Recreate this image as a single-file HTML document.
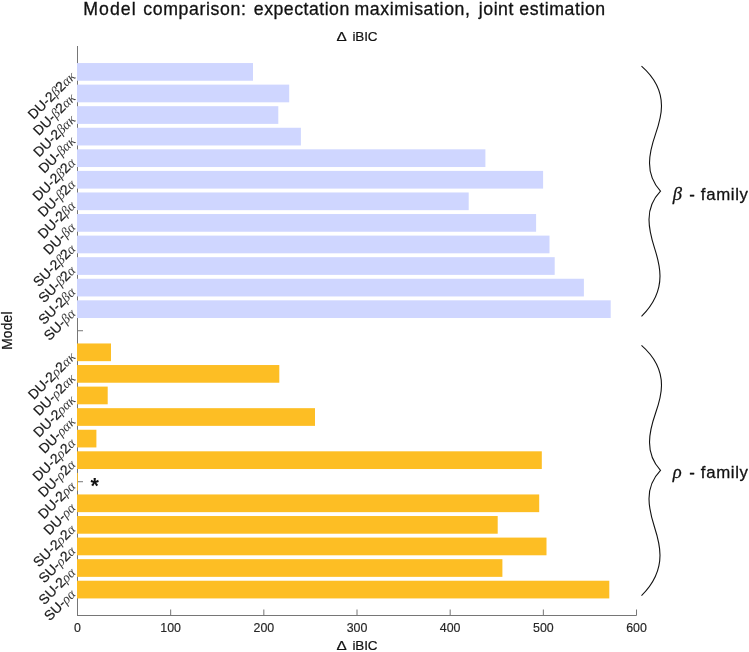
<!DOCTYPE html><html><head><meta charset="utf-8"><title>Model comparison</title>
<style>
html,body{margin:0;padding:0;background:#fff}
svg{display:block}
text{font-family:"Liberation Sans",sans-serif;fill:#111}
.t{font-size:12.4px;fill:#262626;stroke:#262626;stroke-width:0.15px}
.yl{font-size:13.8px;fill:#1a1a1a;stroke:#1a1a1a;stroke-width:0.22px}
.g{font-family:"Liberation Serif",serif;font-style:italic;font-size:13.8px;fill:#3a3a3a;stroke:none}
.fam{stroke:#111;stroke-width:0.3px}
.gi{font-family:"Liberation Serif",serif;font-style:italic}
.lb{stroke:#111;stroke-width:0.2px}
.ttl{stroke:#111;stroke-width:0.3px}
.ax{stroke:#767676;stroke-width:1;fill:none}
</style></head><body>
<svg width="749" height="652" viewBox="0 0 749 652">
<rect width="749" height="652" fill="#fff"/>
<text class="ttl" y="15.4" font-size="17.7"><tspan x="83.2" textLength="52.4" lengthAdjust="spacing">Model</tspan> <tspan x="143.2" textLength="102.6" lengthAdjust="spacing">comparison:</tspan> <tspan x="253.8" textLength="95.5" lengthAdjust="spacing">expectation</tspan> <tspan x="354.4" textLength="115.6" lengthAdjust="spacing">maximisation,</tspan> <tspan x="478.8" textLength="34.6" lengthAdjust="spacing">joint</tspan> <tspan x="519.3" textLength="85.9" lengthAdjust="spacing">estimation</tspan></text>
<text class="lb" transform="translate(336.4,40.6) scale(1.14,1)" font-size="13.5">Δ</text>
<text class="lb" x="352.4" y="40.6" font-size="13.5" textLength="25.2" lengthAdjust="spacing">iBIC</text>
<text class="lb" transform="translate(336.4,650.1) scale(1.14,1)" font-size="13.5">Δ</text>
<text class="lb" x="352.4" y="650.1" font-size="13.5" textLength="25.2" lengthAdjust="spacing">iBIC</text>
<text class="lb" transform="translate(11.9,349.8) rotate(-90)" font-size="13.8" textLength="38.3" lengthAdjust="spacing">Model</text>
<line class="ax" x1="77.5" x2="83.0" y1="71.90" y2="71.90"/>
<line class="ax" x1="77.5" x2="83.0" y1="93.47" y2="93.47"/>
<line class="ax" x1="77.5" x2="83.0" y1="115.04" y2="115.04"/>
<line class="ax" x1="77.5" x2="83.0" y1="136.61" y2="136.61"/>
<line class="ax" x1="77.5" x2="83.0" y1="158.18" y2="158.18"/>
<line class="ax" x1="77.5" x2="83.0" y1="179.75" y2="179.75"/>
<line class="ax" x1="77.5" x2="83.0" y1="201.32" y2="201.32"/>
<line class="ax" x1="77.5" x2="83.0" y1="222.89" y2="222.89"/>
<line class="ax" x1="77.5" x2="83.0" y1="244.46" y2="244.46"/>
<line class="ax" x1="77.5" x2="83.0" y1="266.03" y2="266.03"/>
<line class="ax" x1="77.5" x2="83.0" y1="287.60" y2="287.60"/>
<line class="ax" x1="77.5" x2="83.0" y1="309.17" y2="309.17"/>
<line class="ax" x1="77.5" x2="83.0" y1="330.74" y2="330.74"/>
<line class="ax" x1="77.5" x2="83.0" y1="352.31" y2="352.31"/>
<line class="ax" x1="77.5" x2="83.0" y1="373.88" y2="373.88"/>
<line class="ax" x1="77.5" x2="83.0" y1="395.45" y2="395.45"/>
<line class="ax" x1="77.5" x2="83.0" y1="417.02" y2="417.02"/>
<line class="ax" x1="77.5" x2="83.0" y1="438.59" y2="438.59"/>
<line class="ax" x1="77.5" x2="83.0" y1="460.16" y2="460.16"/>
<line class="ax" x1="77.5" x2="83.0" y1="481.73" y2="481.73"/>
<line class="ax" x1="77.5" x2="83.0" y1="503.30" y2="503.30"/>
<line class="ax" x1="77.5" x2="83.0" y1="524.87" y2="524.87"/>
<line class="ax" x1="77.5" x2="83.0" y1="546.44" y2="546.44"/>
<line class="ax" x1="77.5" x2="83.0" y1="568.01" y2="568.01"/>
<line class="ax" x1="77.5" x2="83.0" y1="589.58" y2="589.58"/>
<path class="ax" d="M77.5 46.0 V615.5"/>
<rect x="77.0" y="63.05" width="176.00" height="17.7" fill="#cfd6ff"/>
<rect x="77.0" y="84.62" width="212.20" height="17.7" fill="#cfd6ff"/>
<rect x="77.0" y="106.19" width="201.30" height="17.7" fill="#cfd6ff"/>
<rect x="77.0" y="127.76" width="223.90" height="17.7" fill="#cfd6ff"/>
<rect x="77.0" y="149.33" width="408.40" height="17.7" fill="#cfd6ff"/>
<rect x="77.0" y="170.90" width="466.10" height="17.7" fill="#cfd6ff"/>
<rect x="77.0" y="192.47" width="391.70" height="17.7" fill="#cfd6ff"/>
<rect x="77.0" y="214.04" width="459.10" height="17.7" fill="#cfd6ff"/>
<rect x="77.0" y="235.61" width="472.50" height="17.7" fill="#cfd6ff"/>
<rect x="77.0" y="257.18" width="477.70" height="17.7" fill="#cfd6ff"/>
<rect x="77.0" y="278.75" width="506.90" height="17.7" fill="#cfd6ff"/>
<rect x="77.0" y="300.32" width="533.70" height="17.7" fill="#cfd6ff"/>
<rect x="77.0" y="343.46" width="34.00" height="17.7" fill="#fdbe24"/>
<rect x="77.0" y="365.03" width="202.30" height="17.7" fill="#fdbe24"/>
<rect x="77.0" y="386.60" width="30.70" height="17.7" fill="#fdbe24"/>
<rect x="77.0" y="408.17" width="238.00" height="17.7" fill="#fdbe24"/>
<rect x="77.0" y="429.74" width="19.40" height="17.7" fill="#fdbe24"/>
<rect x="77.0" y="451.31" width="464.80" height="17.7" fill="#fdbe24"/>
<rect x="77.0" y="472.88" width="0.90" height="17.7" fill="#fdbe24"/>
<rect x="77.0" y="494.45" width="462.20" height="17.7" fill="#fdbe24"/>
<rect x="77.0" y="516.02" width="420.70" height="17.7" fill="#fdbe24"/>
<rect x="77.0" y="537.59" width="469.50" height="17.7" fill="#fdbe24"/>
<rect x="77.0" y="559.16" width="425.40" height="17.7" fill="#fdbe24"/>
<rect x="77.0" y="580.73" width="532.30" height="17.7" fill="#fdbe24"/>
<path class="ax" d="M77.0 615.5 H636.5"/>
<line class="ax" x1="77.50" x2="77.50" y1="615.5" y2="609.5"/>
<text class="t" x="77.50" y="632.4" text-anchor="middle">0</text>
<line class="ax" x1="170.67" x2="170.67" y1="615.5" y2="609.5"/>
<text class="t" x="170.67" y="632.4" text-anchor="middle">100</text>
<line class="ax" x1="263.84" x2="263.84" y1="615.5" y2="609.5"/>
<text class="t" x="263.84" y="632.4" text-anchor="middle">200</text>
<line class="ax" x1="357.01" x2="357.01" y1="615.5" y2="609.5"/>
<text class="t" x="357.01" y="632.4" text-anchor="middle">300</text>
<line class="ax" x1="450.18" x2="450.18" y1="615.5" y2="609.5"/>
<text class="t" x="450.18" y="632.4" text-anchor="middle">400</text>
<line class="ax" x1="543.35" x2="543.35" y1="615.5" y2="609.5"/>
<text class="t" x="543.35" y="632.4" text-anchor="middle">500</text>
<line class="ax" x1="636.52" x2="636.52" y1="615.5" y2="609.5"/>
<text class="t" x="636.52" y="632.4" text-anchor="middle">600</text>
<text class="yl" transform="translate(73.5,74.40) rotate(-45)" text-anchor="end" y="4.0">DU-2<tspan class="g">β</tspan>2<tspan class="g">α</tspan><tspan class="g">κ</tspan></text>
<text class="yl" transform="translate(73.5,95.97) rotate(-45)" text-anchor="end" y="4.0">DU-<tspan class="g">β</tspan>2<tspan class="g">α</tspan><tspan class="g">κ</tspan></text>
<text class="yl" transform="translate(73.5,117.54) rotate(-45)" text-anchor="end" y="4.0">DU-2<tspan class="g">β</tspan><tspan class="g">α</tspan><tspan class="g">κ</tspan></text>
<text class="yl" transform="translate(73.5,139.11) rotate(-45)" text-anchor="end" y="4.0">DU-<tspan class="g">β</tspan><tspan class="g">α</tspan><tspan class="g">κ</tspan></text>
<text class="yl" transform="translate(73.5,160.68) rotate(-45)" text-anchor="end" y="4.0">DU-2<tspan class="g">β</tspan>2<tspan class="g">α</tspan></text>
<text class="yl" transform="translate(73.5,182.25) rotate(-45)" text-anchor="end" y="4.0">DU-<tspan class="g">β</tspan>2<tspan class="g">α</tspan></text>
<text class="yl" transform="translate(73.5,203.82) rotate(-45)" text-anchor="end" y="4.0">DU-2<tspan class="g">β</tspan><tspan class="g">α</tspan></text>
<text class="yl" transform="translate(73.5,225.39) rotate(-45)" text-anchor="end" y="4.0">DU-<tspan class="g">β</tspan><tspan class="g">α</tspan></text>
<text class="yl" transform="translate(73.5,246.96) rotate(-45)" text-anchor="end" y="4.0">SU-2<tspan class="g">β</tspan>2<tspan class="g">α</tspan></text>
<text class="yl" transform="translate(73.5,268.53) rotate(-45)" text-anchor="end" y="4.0">SU-<tspan class="g">β</tspan>2<tspan class="g">α</tspan></text>
<text class="yl" transform="translate(73.5,290.10) rotate(-45)" text-anchor="end" y="4.0">SU-2<tspan class="g">β</tspan><tspan class="g">α</tspan></text>
<text class="yl" transform="translate(73.5,311.67) rotate(-45)" text-anchor="end" y="4.0">SU-<tspan class="g">β</tspan><tspan class="g">α</tspan></text>
<text class="yl" transform="translate(73.5,354.81) rotate(-45)" text-anchor="end" y="4.0">DU-2<tspan class="g">ρ</tspan>2<tspan class="g">α</tspan><tspan class="g">κ</tspan></text>
<text class="yl" transform="translate(73.5,376.38) rotate(-45)" text-anchor="end" y="4.0">DU-<tspan class="g">ρ</tspan>2<tspan class="g">α</tspan><tspan class="g">κ</tspan></text>
<text class="yl" transform="translate(73.5,397.95) rotate(-45)" text-anchor="end" y="4.0">DU-2<tspan class="g">ρ</tspan><tspan class="g">α</tspan><tspan class="g">κ</tspan></text>
<text class="yl" transform="translate(73.5,419.52) rotate(-45)" text-anchor="end" y="4.0">DU-<tspan class="g">ρ</tspan><tspan class="g">α</tspan><tspan class="g">κ</tspan></text>
<text class="yl" transform="translate(73.5,441.09) rotate(-45)" text-anchor="end" y="4.0">DU-2<tspan class="g">ρ</tspan>2<tspan class="g">α</tspan></text>
<text class="yl" transform="translate(73.5,462.66) rotate(-45)" text-anchor="end" y="4.0">DU-<tspan class="g">ρ</tspan>2<tspan class="g">α</tspan></text>
<text class="yl" transform="translate(73.5,484.23) rotate(-45)" text-anchor="end" y="4.0">DU-2<tspan class="g">ρ</tspan><tspan class="g">α</tspan></text>
<text class="yl" transform="translate(73.5,505.80) rotate(-45)" text-anchor="end" y="4.0">DU-<tspan class="g">ρ</tspan><tspan class="g">α</tspan></text>
<text class="yl" transform="translate(73.5,527.37) rotate(-45)" text-anchor="end" y="4.0">SU-2<tspan class="g">ρ</tspan>2<tspan class="g">α</tspan></text>
<text class="yl" transform="translate(73.5,548.94) rotate(-45)" text-anchor="end" y="4.0">SU-<tspan class="g">ρ</tspan>2<tspan class="g">α</tspan></text>
<text class="yl" transform="translate(73.5,570.51) rotate(-45)" text-anchor="end" y="4.0">SU-2<tspan class="g">ρ</tspan><tspan class="g">α</tspan></text>
<text class="yl" transform="translate(73.5,592.08) rotate(-45)" text-anchor="end" y="4.0">SU-<tspan class="g">ρ</tspan><tspan class="g">α</tspan></text>
<text x="94.8" y="492.8" font-size="21.5" font-weight="bold" text-anchor="middle" fill="#000">*</text>
<path d="M641.5 66.2 C655 78.0 661.5 92.0 661.5 106.0 C661.5 128.0 649.5 140.0 649.5 163.0 C649.5 176.0 654 184.0 660.5 191.2 C654 198.0 649 206.0 649 219.5 C649 242.0 660 254.0 660 276.0 C660 290.0 654 304.0 641.5 316.4" fill="none" stroke="#111" stroke-width="1.1"/>
<path d="M641.5 345.4 C655 357.2 661.5 371.2 661.5 385.2 C661.5 407.2 649.5 419.2 649.5 442.2 C649.5 455.2 654 463.2 660.5 470.4 C654 477.2 649 485.2 649 498.7 C649 521.2 660 533.2 660 555.2 C660 569.2 654 583.2 641.5 595.6" fill="none" stroke="#111" stroke-width="1.1"/>
<text class="fam gi" x="672.8" y="199.9" font-size="18.6">β</text>
<text class="fam" x="689.2" y="199.9" font-size="16.8">-</text>
<text class="fam" x="700.8" y="199.9" font-size="16.8" textLength="47.2" lengthAdjust="spacing">family</text>
<text class="fam gi" x="672.8" y="477.9" font-size="18.6">ρ</text>
<text class="fam" x="689.2" y="477.9" font-size="16.8">-</text>
<text class="fam" x="700.8" y="477.9" font-size="16.8" textLength="47.2" lengthAdjust="spacing">family</text>
</svg></body></html>
